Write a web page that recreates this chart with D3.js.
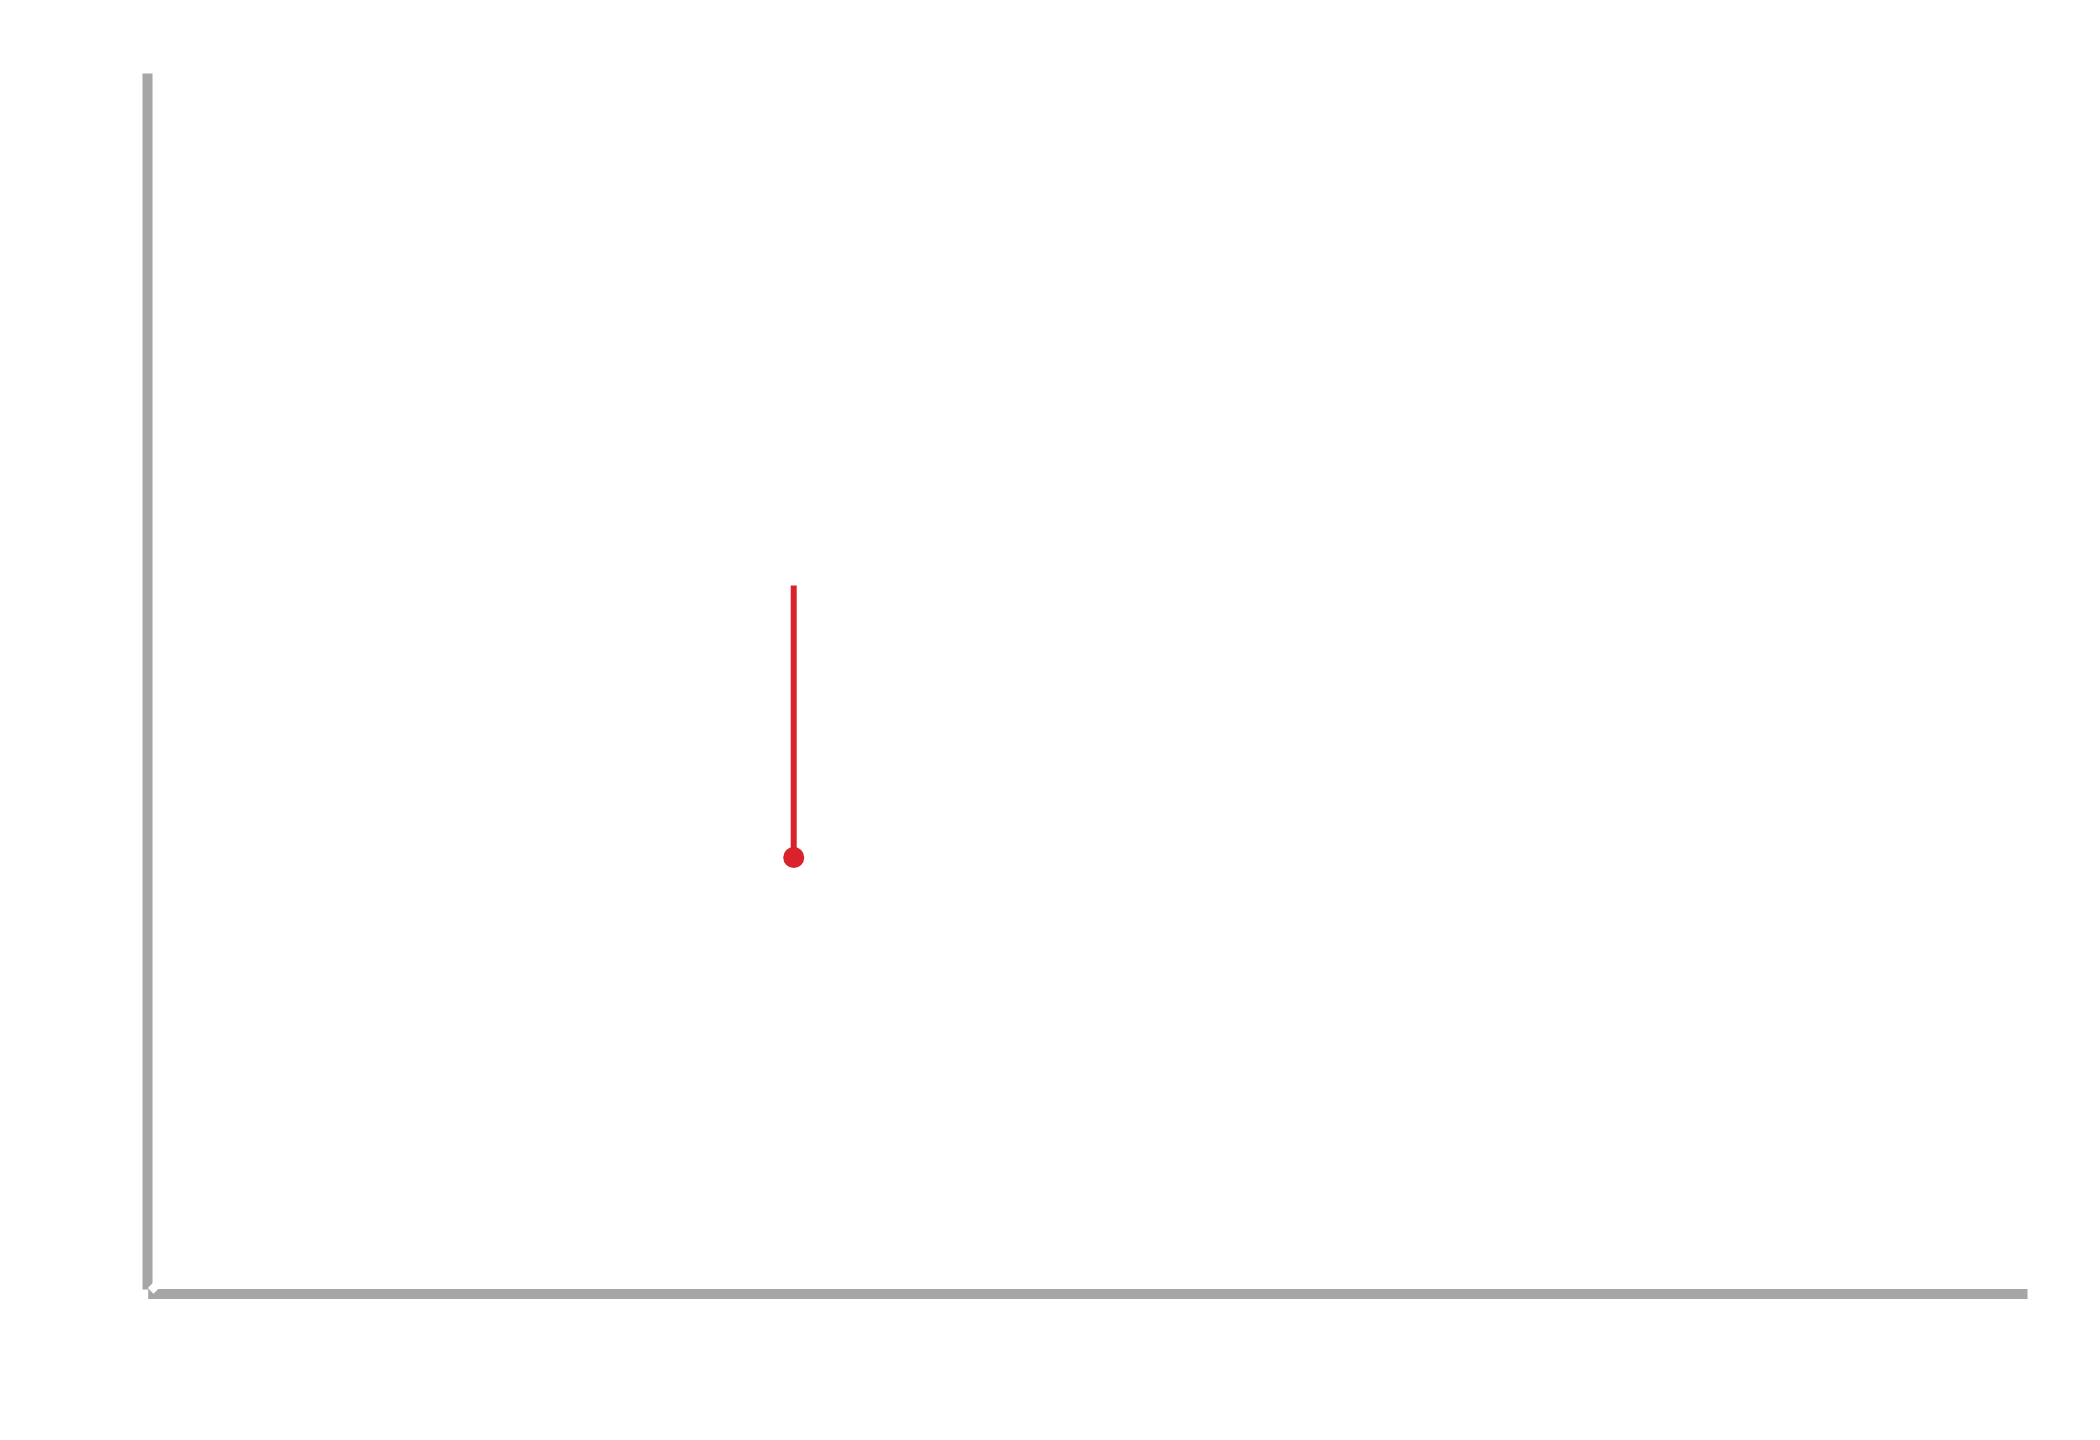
<!DOCTYPE html>
<html>
<head>
<meta charset="utf-8">
<script src="https://cdn.jsdelivr.net/npm/d3@7"></script>
<style>
  html, body { margin: 0; padding: 0; background: #fff; }
  svg { display: block; }
</style>
</head>
<body>
<div id="chart"></div>
<script>
// single lollipop reading off the picture (no ticks, so unit domain 0..100)
const categories = ['A']
const xValues = [34.4]
const pointValues = [35.7]
const stemTopValues = [58.0]

const width = 2100
const height = 1440
const axisColor = '#a6a6a6'
const markColor = '#d9222b'

const svg = d3.select('#chart')
  .append('svg')
  .attr('width', width)
  .attr('height', height)

const x = d3.scaleLinear().domain([0, 100]).range([147, 2027])
const y = d3.scaleLinear().domain([0, 100]).range([1293, 73])

// axes: domain lines only
const yAxis = svg.append('g')
  .attr('transform', 'translate(147,0)')
  .call(d3.axisLeft(y.copy().range([1289, 73])).ticks(0).tickSizeOuter(0))
const xAxis = svg.append('g')
  .attr('transform', 'translate(0,1293.5)')
  .call(d3.axisBottom(x.copy().range([147.7, 2027])).ticks(0).tickSizeOuter(0))

svg.selectAll('.domain')
  .attr('stroke', axisColor)
  .attr('stroke-width', 10)
  .attr('stroke-linecap', 'butt')

// small notch where the two axis lines meet
svg.append('rect')
  .attr('x', -4).attr('y', -4)
  .attr('width', 8).attr('height', 8)
  .attr('fill', '#fff')
  .attr('transform', 'translate(153.5,1288) rotate(45)')

const data = categories.map((c, i) => ({
  name: c, x: xValues[i], v: pointValues[i], top: stemTopValues[i]
}))

const marks = svg.append('g').attr('class', 'marks')

marks.selectAll('line.stem')
  .data(data)
  .join('line')
  .attr('class', 'stem')
  .attr('x1', d => x(d.x))
  .attr('x2', d => x(d.x))
  .attr('y1', d => y(d.top))
  .attr('y2', d => y(d.v))
  .attr('stroke', markColor)
  .attr('stroke-width', 6)

marks.selectAll('circle.dot')
  .data(data)
  .join('circle')
  .attr('class', 'dot')
  .attr('cx', d => x(d.x))
  .attr('cy', d => y(d.v))
  .attr('r', 10.5)
  .attr('fill', markColor)
</script>
</body>
</html>
